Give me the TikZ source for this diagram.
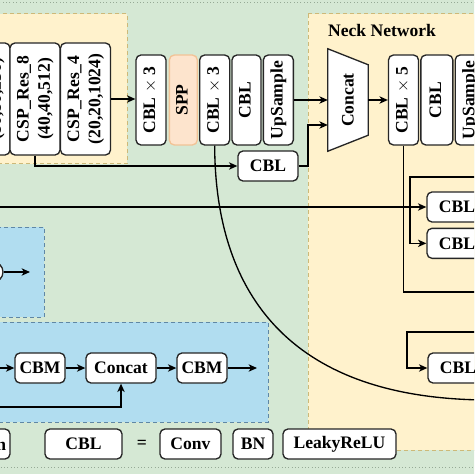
\documentclass[tikz,border=0pt]{standalone}
\usepackage{fontspec}
\setmainfont{Liberation Serif}
\usetikzlibrary{arrows.meta,positioning,calc}
\definecolor{bggreen}{RGB}{213,232,212}
\definecolor{edgegreen}{RGB}{150,170,150}
\definecolor{bgyellow}{RGB}{255,242,204}
\definecolor{edgeyellow}{RGB}{205,185,120}
\definecolor{bgblue}{RGB}{177,221,240}
\definecolor{edgeblue}{RGB}{95,135,165}
\definecolor{bgorange}{RGB}{253,228,205}
\definecolor{edgeorange}{RGB}{242,195,150}
\newcommand{\vlab}[1]{\rotatebox{90}{\begin{tabular}{@{}c@{}}#1\end{tabular}}}

\begin{document}
\begin{tikzpicture}[
  x=0.3mm,y=-0.3mm,
  font=\bfseries\fontsize{15}{18}\selectfont,
  >={Stealth[length=2.5mm,width=2.2mm,inset=0.7mm]},
  vbox/.style={draw=black!85,line width=0.4mm,fill=white,rounded corners=1.5mm,
               inner sep=0pt,minimum width=#1,minimum height=27mm},
  bbox/.style={vbox=15mm,minimum height=33.6mm},
  hbox/.style={draw=black!85,line width=0.4mm,fill=white,rounded corners=1.5mm,
               inner sep=1pt,minimum width=#1,minimum height=9mm},
  region/.style={line width=0.3mm,dash pattern=on 1.2mm off 0.9mm},
  arr/.style={->,line width=0.4mm},
  wire/.style={line width=0.4mm},
]
\useasboundingbox (0,0) rectangle (474,474);
\clip (0,0) rectangle (474,474);

% ---- regions ----
\fill[bggreen] (-10,-10) rectangle (484,484);
\draw[edgegreen,line width=0.3mm,dotted] (-10,3) rectangle (484,467);
\draw[region,fill=bgyellow,draw=edgeyellow] (-20,14) rectangle (127,164);
\draw[region,fill=bgyellow,draw=edgeyellow] (308,14) rectangle (490,450);
\draw[region,fill=bgblue,draw=edgeblue] (-20,227) rectangle (44,317);
\draw[region,fill=bgblue,draw=edgeblue] (-20,322) rectangle (268,422);
\node[anchor=west] (necklab) at (324,30) {Neck Network};

% ---- backbone ----
\node[bbox,minimum width=14.4mm] (res8a) at (-14,99) {\vlab{CSP\_Res\_8\\(80,80,256)}};
\node[bbox] (res8b) at (35,99) {\vlab{CSP\_Res\_8\\(40,40,512)}};
\node[bbox] (res4) at (85.5,99) {\vlab{CSP\_Res\_4\\(20,20,1024)}};

% ---- SPP row ----
\node[vbox=9mm] (cbl3a) at (151,100) {\vlab{CBL $\times$ 3}};
\node[vbox=8.4mm,right=0.6mm of cbl3a,fill=bgorange,draw=edgeorange] (spp) {\vlab{SPP}};
\node[vbox=9mm,right=0.3mm of spp] (cbl3b) {\vlab{CBL $\times$ 3}};
\node[vbox=8.7mm,right=0.3mm of cbl3b] (cbl1) {\vlab{CBL}};
\node[vbox=9mm,right=0.3mm of cbl1] (up1) {\vlab{UpSample}};
\node[hbox=18mm] (cbls) at (268,166) {CBL};

% ---- neck ----
\node[minimum width=12mm,minimum height=30.6mm,inner sep=0pt] (cat) at (348,100) {};
\draw[draw=black!85,line width=0.4mm,fill=white] (cat.north west) -- ($(cat.north east)+(0,16)$)
  -- ($(cat.south east)+(0,-16)$) -- (cat.south west) -- cycle;
\node[rotate=90] (catlab) at (cat) {Concat};
\node[vbox=9mm] (cbl5) at (403.5,100) {\vlab{CBL $\times$ 5}};
\node[vbox=9.6mm,right=0.3mm of cbl5] (cbl2) {\vlab{CBL}};
\node[vbox=9mm,right=0.3mm of cbl2] (up2) {\vlab{UpSample}};
\node[hbox=18mm] (cblr1) at (457,207) {CBL};
\node[hbox=18mm,below=1.5mm of cblr1] (cblr2) {CBL};
\node[hbox=18mm] (cblr3) at (458,368) {CBL};

% ---- res unit / CSP ----
\node[draw=black!85,line width=0.4mm,fill=white,circle,minimum size=6mm] (add) at (-7,272) {};
\coordinate (addout) at (30,272);
\node[hbox=15mm] (cbm1) at (40,368) {CBM};
\node[hbox=21mm] (cat2) at (121,368) {Concat};
\node[hbox=15mm] (cbm2) at (202,368) {CBM};

% ---- legend ----
\node[hbox=13.8mm] (mish) at (-13,444) {Mish};
\node[hbox=23.1mm] (cbll) at (83.5,444) {CBL};
\node (eq) at (142,444) {=};
\node[hbox=18.3mm] (conv) at (190.5,444) {Conv};
\node[hbox=12mm] (bn) at (253,444) {BN};
\node[hbox=33.9mm] (leaky) at (339.5,444) {LeakyReLU};

% ---- connectors ----
\draw[arr] (res4.east) -- (res4.east -| cbl3a.west);
\draw[arr] (res8b.south) |- (cbls.west);
\draw[arr] (up1.east) -- (up1.east -| cat.west);
\coordinate (k1) at (308,125);
\draw[arr] (cbls.east) -| (k1) -- (k1 -| cat.west);
\draw[arr] (cat.east) -- (cbl5.west);
\coordinate (out1) at (490,292);
\draw[wire] (cbl5.south) |- (out1);
\coordinate (in2) at (490,177);
\coordinate (k2) at (410,177);
\draw[arr] (in2) -- (k2) |- (cblr2.west);
\coordinate (in3) at (-10,207);
\draw[arr] (in3) -- (cblr1.west);
\coordinate (out2) at (490,400);
\draw[wire] (cbl3b.south) .. controls (215,260) and (260,400) .. (out2);
\coordinate (in4) at (490,332);
\coordinate (k4) at (407,332);
\draw[arr] (in4) -- (k4) |- (cblr3.west);
\draw[arr] (add) -- (addout);
\coordinate (in5) at (-10,368);
\draw[arr] (in5) -- (cbm1.west);
\draw[arr] (cbm1) -- (cat2);
\draw[arr] (cat2) -- (cbm2);
\coordinate (cbmout) at (257,368);
\draw[arr] (cbm2) -- (cbmout);
\coordinate (in6) at (-10,407);
\draw[arr] (in6) -| (cat2.south);
\end{tikzpicture}
\end{document}
